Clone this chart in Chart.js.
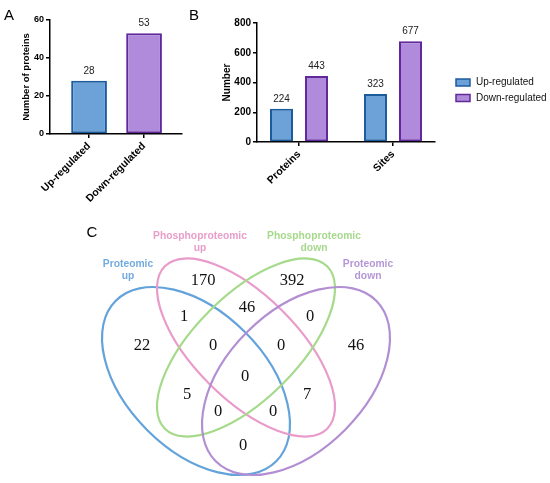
<!DOCTYPE html>
<html>
<head>
<meta charset="utf-8">
<script src="https://cdn.jsdelivr.net/npm/chart.js@4.4.0/dist/chart.umd.min.js"></script>
<style>
  body { margin: 0; background: #fff; }
  canvas { position: absolute; }
  #chartA { left: 0; top: 0; }
  #chartB { left: 190px; top: 0; }
  #chartC { left: 0; top: 205px; }
</style>
</head>
<body>
<canvas id="chartA" width="190" height="205"></canvas>
<canvas id="chartB" width="360" height="205"></canvas>
<canvas id="chartC" width="550" height="278"></canvas>
<script>
// Panel A: proteome
const groupsA = ['Up-regulated', 'Down-regulated'];
const proteinCounts = [28, 53];
const ticksA = [0, 20, 40, 60];

// Panel B: phosphoproteome
const groupsB = ['Proteins', 'Sites'];
const seriesB = ['Up-regulated', 'Down-regulated'];
const upCounts = [224, 323];
const downCounts = [443, 677];
const ticksB = [0, 200, 400, 600, 800];

// Panel C: Venn diagram
const vennSets = [
    ['Proteomic', 'up'],
    ['Phosphoproteomic', 'up'],
    ['Phosphoproteomic', 'down'],
    ['Proteomic', 'down']
];
const vennCounts = [22, 170, 392, 46, 1, 46, 0, 0, 0, 0, 5, 7, 0, 0, 0];

// layout of the Venn (page pixels)
const vennSpots = [
    [142, 346], [203, 281], [292, 281], [356, 346], [184, 317],
    [247, 308], [310, 317], [213, 346], [281, 346], [245, 377],
    [187, 395], [307, 395], [218, 412], [273, 412], [243, 446]
];
const vennShapes = [
    { cx: 196, cy: 381, a: 113.5, b: 69.2, rot: 45 },
    { cx: 246, cy: 347.5, a: 114.8, b: 51.7, rot: 45 },
    { cx: 246, cy: 347.5, a: 114.8, b: 51.7, rot: -45 },
    { cx: 296, cy: 381, a: 113.5, b: 69.2, rot: -45 }
];
const vennLabelSpots = [[128, 264], [200, 236], [314, 236], [368, 264]];
const vennLine = ['#64a2db', '#e99bca', '#a6da8b', '#b28fd3'];
const vennText = ['#74abdf', '#e89dcb', '#a7d98d', '#b597d6'];

const upFill = '#6da2d9';
const upLine = '#1c5b9c';
const downFill = '#b18bdb';
const downLine = '#61289c';

const SANS = '"Liberation Sans", Arial, sans-serif';
const SERIF = '"Liberation Serif", "Times New Roman", serif';

const panelLetter = {
    id: 'panelLetter',
    afterDraw(chart, args, opts) {
        const ctx = chart.ctx;
        ctx.save();
        ctx.font = '15px ' + SANS;
        ctx.fillStyle = '#000';
        ctx.textAlign = 'center';
        ctx.textBaseline = 'middle';
        ctx.fillText(opts.text, opts.x, opts.y);
        ctx.restore();
    }
};

const valueLabels = {
    id: 'valueLabels',
    afterDatasetsDraw(chart) {
        const ctx = chart.ctx;
        ctx.save();
        ctx.font = '10px ' + SANS;
        ctx.fillStyle = '#222';
        ctx.textAlign = 'center';
        ctx.textBaseline = 'alphabetic';
        chart.data.datasets.forEach((ds, i) => {
            chart.getDatasetMeta(i).data.forEach((bar, j) => {
                ctx.fillText(ds.data[j].y, bar.x, bar.y - 7);
            });
        });
        ctx.restore();
    }
};

const sideLegend = {
    id: 'sideLegend',
    afterDraw(chart, args, opts) {
        const ctx = chart.ctx;
        ctx.save();
        ctx.font = '10px ' + SANS;
        ctx.textBaseline = 'middle';
        ctx.textAlign = 'left';
        chart.data.datasets.forEach((ds, i) => {
            const y = opts.y + i * opts.gap;
            ctx.fillStyle = ds.backgroundColor;
            ctx.fillRect(opts.x, y - 3.5, 14, 7);
            ctx.strokeStyle = ds.borderColor;
            ctx.lineWidth = 1.5;
            ctx.strokeRect(opts.x, y - 3.5, 14, 7);
            ctx.fillStyle = '#111';
            ctx.fillText(ds.label, opts.x + 20, y);
        });
        ctx.restore();
    }
};

function axisX(labels, min, max, height) {
    return {
        type: 'linear',
        min: min,
        max: max,
        offset: false,
        afterBuildTicks: s => { s.ticks = labels.map((_, i) => ({ value: i })); },
        afterFit: s => { s.height = height; },
        grid: { drawOnChartArea: false, offset: false, color: '#000', lineWidth: 1.5, tickLength: 4 },
        border: { color: '#000', width: 1.5 },
        ticks: {
            callback: v => labels[v],
            autoSkip: false,
            maxRotation: 45,
            minRotation: 45,
            padding: 2,
            color: '#000',
            font: { family: SANS, size: 10.5, weight: 'bold' }
        }
    };
}

function axisY(tickValues, width, tickFont, title, titleFont, titlePad) {
    return {
        min: tickValues[0],
        max: tickValues[tickValues.length - 1],
        afterBuildTicks: s => { s.ticks = tickValues.map(v => ({ value: v })); },
        afterFit: s => { s.width = width; },
        grid: { drawOnChartArea: false, color: '#000', lineWidth: 1.5, tickLength: 4 },
        border: { color: '#000', width: 1.5 },
        ticks: { padding: 2, color: '#000', font: { family: SANS, size: tickFont, weight: 'bold' } },
        title: {
            display: true,
            text: title,
            color: '#000',
            padding: { top: titlePad, bottom: 0 },
            font: { family: SANS, size: titleFont, weight: 'bold' }
        }
    };
}

new Chart(document.getElementById('chartA'), {
    type: 'bar',
    data: {
        datasets: [{
            data: proteinCounts.map((v, i) => ({ x: i, y: v })),
            backgroundColor: [upFill, downFill],
            borderColor: [upLine, downLine],
            borderWidth: 2,
            borderSkipped: false,
            categoryPercentage: 1,
            barPercentage: 0.65
        }]
    },
    options: {
        responsive: false,
        animation: false,
        layout: { padding: { top: 20, right: 8, left: 0, bottom: 0 } },
        plugins: {
            legend: { display: false },
            tooltip: { enabled: false },
            panelLetter: { text: 'A', x: 9, y: 16 }
        },
        scales: {
            x: axisX(groupsA, -0.71, 1.69, 71),
            y: axisY(ticksA, 50, 9, 'Number of proteins', 9.5, 21)
        }
    },
    plugins: [valueLabels, panelLetter]
});

new Chart(document.getElementById('chartB'), {
    type: 'bar',
    data: {
        datasets: [
            {
                label: seriesB[0],
                data: upCounts.map((v, i) => ({ x: i, y: v })),
                backgroundColor: upFill,
                borderColor: upLine,
                borderWidth: 2,
                borderSkipped: false,
                categoryPercentage: 0.745,
                barPercentage: 0.657
            },
            {
                label: seriesB[1],
                data: downCounts.map((v, i) => ({ x: i, y: v })),
                backgroundColor: downFill,
                borderColor: downLine,
                borderWidth: 2,
                borderSkipped: false,
                categoryPercentage: 0.745,
                barPercentage: 0.657
            }
        ]
    },
    options: {
        responsive: false,
        animation: false,
        layout: { padding: { top: 23, right: 115, left: 0, bottom: 0 } },
        plugins: {
            legend: { display: false },
            tooltip: { enabled: false },
            panelLetter: { text: 'B', x: 4, y: 16 },
            sideLegend: { x: 266, y: 82.5, gap: 15.5 }
        },
        scales: {
            x: axisX(groupsB, -0.447, 1.447, 63),
            y: axisY(ticksB, 67, 10, 'Number', 10, 31)
        }
    },
    plugins: [valueLabels, panelLetter, sideLegend]
});

const vennPlugin = {
    id: 'vennPlugin',
    beforeDatasetsDraw(chart) {
        const { ctx, scales: { x, y } } = chart;
        ctx.save();
        vennShapes.forEach((g, i) => {
            const cx = x.getPixelForValue(g.cx);
            const cy = y.getPixelForValue(g.cy);
            const rx = Math.abs(x.getPixelForValue(g.cx + g.a) - cx);
            const ry = Math.abs(x.getPixelForValue(g.cx + g.b) - cx);
            ctx.beginPath();
            ctx.ellipse(cx, cy, rx, ry, g.rot * Math.PI / 180, 0, 2 * Math.PI);
            ctx.lineWidth = 2.2;
            ctx.strokeStyle = vennLine[i];
            ctx.stroke();
        });
        ctx.font = 'bold 10.3px ' + SANS;
        ctx.textAlign = 'center';
        ctx.textBaseline = 'middle';
        vennSets.forEach((lines, i) => {
            const px = x.getPixelForValue(vennLabelSpots[i][0]);
            const py = y.getPixelForValue(vennLabelSpots[i][1]);
            ctx.fillStyle = vennText[i];
            lines.forEach((t, k) => ctx.fillText(t, px, py + k * 12.6));
        });
        ctx.restore();
    },
    afterDatasetsDraw(chart) {
        const ctx = chart.ctx;
        const ds = chart.data.datasets[0];
        ctx.save();
        ctx.font = '16.5px ' + SERIF;
        ctx.fillStyle = '#111';
        ctx.textAlign = 'center';
        ctx.textBaseline = 'middle';
        chart.getDatasetMeta(0).data.forEach((pt, i) => {
            ctx.fillText(ds.data[i].n, pt.x, pt.y);
        });
        ctx.restore();
    }
};

new Chart(document.getElementById('chartC'), {
    type: 'scatter',
    data: {
        datasets: [{
            data: vennCounts.map((v, i) => ({ x: vennSpots[i][0], y: vennSpots[i][1], n: v })),
            pointRadius: 0
        }]
    },
    options: {
        responsive: false,
        animation: false,
        layout: { padding: 0 },
        plugins: {
            legend: { display: false },
            tooltip: { enabled: false },
            panelLetter: { text: 'C', x: 92, y: 28 }
        },
        scales: {
            x: { type: 'linear', min: 0, max: 550, display: false },
            y: { type: 'linear', min: 205, max: 483, reverse: true, display: false }
        }
    },
    plugins: [vennPlugin, panelLetter]
});
</script>
</body>
</html>
